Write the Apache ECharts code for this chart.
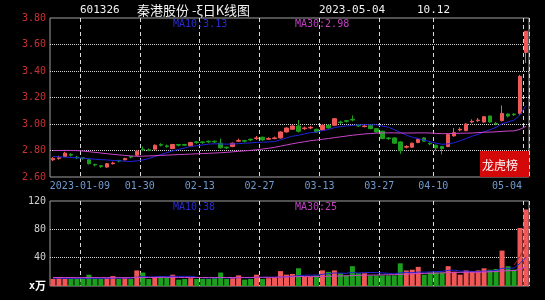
<!DOCTYPE html>
<html><head><meta charset="utf-8">
<script src="https://cdn.jsdelivr.net/npm/echarts@6.0.0/dist/echarts.min.js"></script>
<style>html,body{margin:0;padding:0;background:#000}#c{width:545px;height:300px}</style>
</head><body><div id="c"></div>
<script>
const dates = ['2022-12-30','2023-01-03','2023-01-04','2023-01-05','2023-01-06',
'2023-01-09','2023-01-10','2023-01-11','2023-01-12','2023-01-13',
'2023-01-16','2023-01-17','2023-01-18','2023-01-19','2023-01-20',
'2023-01-30','2023-01-31','2023-02-01','2023-02-02','2023-02-03',
'2023-02-06','2023-02-07','2023-02-08','2023-02-09','2023-02-10',
'2023-02-13','2023-02-14','2023-02-15','2023-02-16','2023-02-17',
'2023-02-20','2023-02-21','2023-02-22','2023-02-23','2023-02-24',
'2023-02-27','2023-02-28','2023-03-01','2023-03-02','2023-03-03',
'2023-03-06','2023-03-07','2023-03-08','2023-03-09','2023-03-10',
'2023-03-13','2023-03-14','2023-03-15','2023-03-16','2023-03-17',
'2023-03-20','2023-03-21','2023-03-22','2023-03-23','2023-03-24',
'2023-03-27','2023-03-28','2023-03-29','2023-03-30','2023-03-31',
'2023-04-03','2023-04-04','2023-04-06','2023-04-07',
'2023-04-10','2023-04-11','2023-04-12','2023-04-13','2023-04-14',
'2023-04-17','2023-04-18','2023-04-19','2023-04-20','2023-04-21',
'2023-04-24','2023-04-25','2023-04-26','2023-04-27','2023-04-28',
'2023-05-04'];
const tickIdx = [5,15,25,35,45,55,64,79];

const opens = [2.73,2.74,2.755,2.77,2.75,2.745,2.73,2.695,2.685,2.675,
2.70,2.725,2.73,2.755,2.765,2.81,2.805,2.81,2.845,2.835,
2.815,2.845,2.845,2.835,2.865,2.865,2.87,2.87,2.855,2.825,
2.83,2.87,2.875,2.885,2.89,2.90,2.885,2.89,2.895,2.94,
2.96,2.985,2.965,2.97,2.96,2.955,2.99,2.99,3.015,3.025,
3.035,2.99,2.98,2.99,2.965,2.945,2.895,2.895,2.865,2.825,
2.825,2.86,2.895,2.855,2.84,2.83,2.83,2.91,2.955,2.95,
3.015,3.025,3.015,3.06,3.005,3.025,3.075,3.075,3.08,3.54];
const closes = [2.74,2.745,2.78,2.765,2.745,2.74,2.70,2.69,2.68,2.70,
2.705,2.72,2.74,2.75,2.795,2.805,2.80,2.84,2.84,2.83,
2.845,2.84,2.84,2.86,2.86,2.86,2.865,2.865,2.82,2.82,
2.855,2.875,2.87,2.88,2.895,2.88,2.89,2.895,2.94,2.97,
2.985,2.945,2.97,2.975,2.94,2.99,2.97,3.04,3.01,3.02,
3.03,2.985,2.985,2.965,2.94,2.89,2.89,2.855,2.80,2.83,
2.855,2.885,2.87,2.85,2.82,2.815,2.92,2.935,2.96,3.00,
3.02,3.03,3.055,3.015,3.00,3.08,3.06,3.07,3.36,3.70];
const lows = [2.72,2.73,2.75,2.755,2.735,2.73,2.695,2.68,2.67,2.67,
2.695,2.71,2.725,2.74,2.76,2.795,2.795,2.805,2.83,2.82,
2.81,2.83,2.835,2.83,2.85,2.85,2.855,2.855,2.815,2.81,
2.825,2.865,2.86,2.87,2.88,2.875,2.88,2.885,2.89,2.935,
2.955,2.935,2.955,2.96,2.935,2.95,2.965,2.985,3.00,3.01,
3.02,2.98,2.975,2.96,2.935,2.885,2.88,2.85,2.775,2.815,
2.82,2.855,2.865,2.84,2.80,2.77,2.825,2.905,2.945,2.945,
3.005,3.015,3.01,3.01,2.99,3.02,3.05,3.06,3.07,3.46];
const highs = [2.75,2.76,2.79,2.78,2.76,2.75,2.735,2.70,2.69,2.705,
2.715,2.73,2.745,2.76,2.80,2.83,2.815,2.845,2.855,2.845,
2.85,2.85,2.85,2.865,2.87,2.87,2.875,2.875,2.89,2.83,
2.86,2.89,2.88,2.89,2.91,2.905,2.90,2.905,2.945,2.975,
2.99,3.03,2.98,2.985,2.965,3.00,2.995,3.045,3.025,3.03,
3.065,3.00,2.995,2.995,2.97,2.95,2.90,2.90,2.87,2.84,
2.86,2.895,2.90,2.86,2.845,2.835,2.925,2.97,2.975,3.005,
3.035,3.045,3.06,3.065,3.015,3.14,3.08,3.08,3.37,3.70];

const volumes = [10,11,10,10,10,10,16,10,10,11,
14,10,11,10,22,19,10,13,14,12,
16,9,10,11,10,10,10,11,19,10,
12,15,9,10,16,10,11,12,21,16,
17,25,13,13,15,22,20,22,18,15,
28,18,18,15,15,15,15,15,32,22,
23,27,16,19,19,19,28,20,16,22,
20,22,25,23,24,50,28,23,82,108];

const ma10 = [2.755,2.752,2.750,2.747,2.745,2.742,2.738,2.734,2.731,2.729,
2.725,2.723,2.719,2.717,2.722,2.729,2.739,2.754,2.770,2.783,
2.797,2.809,2.819,2.830,2.836,2.842,2.848,2.851,2.849,2.848,
2.849,2.852,2.855,2.857,2.861,2.863,2.865,2.868,2.880,2.895,
2.908,2.915,2.925,2.935,2.939,2.950,2.958,2.973,2.980,2.985,
2.989,2.993,2.995,2.994,2.994,2.984,2.976,2.957,2.936,2.917,
2.900,2.890,2.878,2.867,2.855,2.847,2.850,2.858,2.874,2.891,
2.908,2.922,2.941,2.957,2.975,3.002,3.016,3.029,3.069,3.139];
const ma30 = [2.800,2.800,2.801,2.800,2.799,2.796,2.791,2.786,2.781,2.776,
2.771,2.767,2.763,2.759,2.756,2.757,2.759,2.761,2.763,2.765,
2.767,2.769,2.771,2.773,2.775,2.777,2.779,2.781,2.783,2.786,
2.790,2.794,2.797,2.801,2.806,2.811,2.817,2.824,2.833,2.842,
2.851,2.859,2.866,2.874,2.879,2.885,2.890,2.897,2.903,2.909,
2.915,2.920,2.925,2.928,2.931,2.932,2.933,2.933,2.932,2.932,
2.932,2.933,2.933,2.932,2.929,2.927,2.928,2.929,2.930,2.931,
2.932,2.935,2.938,2.939,2.941,2.944,2.947,2.948,2.960,2.982];

const vma5 = [null,null,null,null,null,null,null,null,null,null,
null,null,null,null,null,null,null,null,null,null,
null,null,null,null,null,null,null,null,null,null,
null,null,null,null,null,null,null,null,null,null,
null,null,null,null,null,null,null,null,null,null,
null,null,null,null,null,null,null,null,null,null,
null,null,null,null,null,null,null,null,null,null,
null,null,null,null,null,null,null,29.6,41.4,58.2];
const vma10 = [11.0,11.0,10.9,10.8,10.8,10.8,10.9,10.9,10.9,10.8,
11.2,11.1,11.2,11.2,12.4,13.3,12.7,13.0,13.4,13.5,
13.7,13.6,13.5,13.6,12.4,11.5,11.5,11.3,11.8,11.6,
11.2,11.8,11.7,11.6,12.2,12.2,12.3,12.4,12.6,13.2,
13.7,14.7,15.1,15.4,15.3,16.5,17.4,18.4,18.1,18.0,
19.1,18.4,18.9,19.1,19.1,18.4,17.9,17.2,18.6,19.3,
18.8,19.7,19.5,19.9,20.3,20.7,22.0,22.5,20.9,20.9,
20.6,20.1,21.0,21.4,21.9,25.0,25.0,25.3,31.9,40.5];
const vma30 = [12.0,12.0,11.9,11.9,11.8,11.8,11.9,11.9,11.8,11.8,
11.8,11.8,11.8,11.7,11.9,12.0,12.0,12.0,12.1,12.1,
12.1,12.1,12.0,12.0,12.0,12.0,11.9,11.9,12.0,12.0,
12.0,12.2,12.1,12.1,12.3,12.3,12.2,12.2,12.6,12.8,
12.9,13.4,13.4,13.5,13.3,13.4,13.7,14.0,14.2,14.3,
14.7,15.0,15.2,15.4,15.5,15.7,15.9,16.0,16.4,16.8,
17.2,17.6,17.8,18.1,18.2,18.5,19.1,19.4,19.2,19.4,
19.5,19.4,19.8,20.1,20.4,21.4,21.6,21.7,23.8,26.9];

const priceMin = 2.6, priceMax = 3.8, priceStep = 0.2;
const volMin = 0, volMax = 120, volStep = 40;
const titleCode = '601326', titleName = '秦港股份 -ξ日K线图', titleDate = '2023-05-04', titleChg = '10.12';
const priceMaLabels = ['MA10:3.13', 'MA30:2.98'];
const volMaLabels = ['MA10:38', 'MA30:25'];
const badgeText = '龙虎榜';

const mono = '"DejaVu Sans Mono", monospace';
const cjk = '"Noto Sans CJK SC", sans-serif';
const UP = '#f05858', DOWN = '#1e9e1e';
const C_MA10 = '#2222e0', C_MA30 = '#cc44cc', C_MA5 = '#a02828';
const isTick = (i) => tickIdx.indexOf(i) >= 0;

const kData = opens.map((o, i) => [o, closes[i], lows[i], highs[i]]);
const volData = volumes.map((v, i) => ({ value: v, itemStyle: { color: closes[i] >= opens[i] ? UP : DOWN } }));

const vSplit = { show: true, interval: (i) => isTick(i), lineStyle: { color: '#d8d8d8', type: [4, 3], width: 1 } };
const hSplit = { show: true, showMinLine: false, showMaxLine: false, lineStyle: { color: '#d8d8d8', type: [1, 1], width: 1 } };

const chart = echarts.init(document.getElementById('c'), null, { renderer: 'canvas' });
chart.setOption({
  backgroundColor: '#000',
  animation: false,
  grid: [
    { left: 50, top: 18, width: 479, height: 159, show: true, borderColor: '#a0a0a0', borderWidth: 1, backgroundColor: 'transparent', outerBoundsMode: 'none' },
    { left: 50, top: 201, width: 479, height: 85, show: true, borderColor: '#a0a0a0', borderWidth: 1, backgroundColor: 'transparent', outerBoundsMode: 'none' }
  ],
  xAxis: [
    { type: 'category', gridIndex: 0, data: dates, boundaryGap: true,
      axisLine: { show: false }, axisTick: { show: false },
      axisLabel: {
        interval: (i) => isTick(i), margin: 4,
        formatter: (val, idx) => idx === tickIdx[0] ? '{a|' + val + '}' : (idx === tickIdx[tickIdx.length - 1] ? '{b|' + val.slice(5) + '}' : '{a|' + val.slice(5) + '}'),
        rich: {
          a: { color: '#6f9bd0', fontFamily: mono, fontSize: 10, padding: [0, 6, 0, 0] },
          b: { color: '#6f9bd0', fontFamily: mono, fontSize: 10, padding: [0, 38, 0, 0] }
        }
      },
      splitLine: vSplit },
    { type: 'category', gridIndex: 1, data: dates, boundaryGap: true,
      axisLine: { show: false }, axisTick: { show: false }, axisLabel: { show: false },
      splitLine: vSplit }
  ],
  yAxis: [
    { type: 'value', gridIndex: 0, min: priceMin, max: priceMax, interval: priceStep,
      axisLine: { show: false }, axisTick: { show: false },
      axisLabel: { color: '#c83232', fontFamily: mono, fontSize: 10, margin: 4, formatter: (v) => v.toFixed(2) },
      splitLine: hSplit },
    { type: 'value', gridIndex: 1, min: volMin, max: volMax, interval: volStep,
      axisLine: { show: false }, axisTick: { show: false },
      axisLabel: { color: '#d0d0d0', fontFamily: mono, fontSize: 10, margin: 4,
        formatter: (v) => v === 0 ? '{u|x}{w|万}' : String(v),
        rich: { u: { color: '#ffffff', fontFamily: mono, fontSize: 10, fontWeight: 'bold' }, w: { color: '#ffffff', fontFamily: cjk, fontSize: 11, fontWeight: 'bold' } } },
      splitLine: hSplit }
  ],
  series: [
    { type: 'candlestick', xAxisIndex: 0, yAxisIndex: 0, data: kData, barWidth: 4,
      itemStyle: { color: UP, color0: DOWN, borderColor: UP, borderColor0: DOWN, borderWidth: 1 } },
    { type: 'line', xAxisIndex: 0, yAxisIndex: 0, data: ma10, symbol: 'none', z: 5, lineStyle: { color: C_MA10, width: 1 } },
    { type: 'line', xAxisIndex: 0, yAxisIndex: 0, data: ma30, symbol: 'none', z: 5, lineStyle: { color: C_MA30, width: 1 } },
    { type: 'bar', xAxisIndex: 1, yAxisIndex: 1, data: volData, barWidth: 5 },
    { type: 'line', xAxisIndex: 1, yAxisIndex: 1, data: vma5, symbol: 'none', z: 5, connectNulls: false, lineStyle: { color: C_MA5, width: 1 } },
    { type: 'line', xAxisIndex: 1, yAxisIndex: 1, data: vma10, symbol: 'none', z: 5, lineStyle: { color: C_MA10, width: 1 } },
    { type: 'line', xAxisIndex: 1, yAxisIndex: 1, data: vma30, symbol: 'none', z: 5, lineStyle: { color: C_MA30, width: 1 } }
  ],
  graphic: [
    { type: 'text', x: 80, y: 10, z: 100, style: { text: titleCode, fill: '#f2f2f2', font: '11px ' + mono, verticalAlign: 'middle' } },
    { type: 'text', x: 137, y: 10, z: 100, style: { text: titleName, fill: '#f2f2f2', font: '13px ' + cjk, verticalAlign: 'middle' } },
    { type: 'text', x: 319, y: 10, z: 100, style: { text: titleDate, fill: '#f2f2f2', font: '11px ' + mono, verticalAlign: 'middle' } },
    { type: 'text', x: 417, y: 10, z: 100, style: { text: titleChg, fill: '#f2f2f2', font: '11px ' + mono, verticalAlign: 'middle' } },
    { type: 'text', x: 173, y: 24, z: 100, style: { text: priceMaLabels[0], fill: '#2a2ad0', font: '10px ' + mono, verticalAlign: 'middle' } },
    { type: 'text', x: 295, y: 24, z: 100, style: { text: priceMaLabels[1], fill: '#c040c0', font: '10px ' + mono, verticalAlign: 'middle' } },
    { type: 'text', x: 173, y: 207, z: 100, style: { text: volMaLabels[0], fill: '#2a2ad0', font: '10px ' + mono, verticalAlign: 'middle' } },
    { type: 'text', x: 295, y: 207, z: 100, style: { text: volMaLabels[1], fill: '#c040c0', font: '10px ' + mono, verticalAlign: 'middle' } },
    { type: 'rect', z: 100, shape: { x: 480, y: 151, width: 49, height: 26 }, style: { fill: '#d40808' } },
    { type: 'text', x: 482, y: 165, z: 101, style: { text: badgeText, fill: '#ffffff', font: '12px ' + cjk, verticalAlign: 'middle' } }
  ]
});
</script>
</body></html>
